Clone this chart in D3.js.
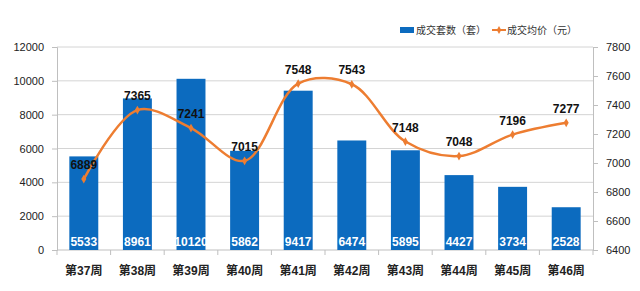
<!DOCTYPE html>
<html>
<head>
<meta charset="utf-8">
<script src="https://cdn.jsdelivr.net/npm/d3@7"></script>
<style>
  body { margin: 0; background: #fff; }
  text { font-family: "Liberation Sans", Arial, "Noto Sans CJK SC", sans-serif; }
</style>
</head>
<body>
<svg width="640" height="291"></svg>
<script>
const weeks = ['第37周', '第38周', '第39周', '第40周', '第41周', '第42周', '第43周', '第44周', '第45周', '第46周'];
const units = [5533, 8961, 10120, 5862, 9417, 6474, 5895, 4427, 3734, 2528];
const prices = [6889, 7365, 7241, 7015, 7548, 7543, 7148, 7048, 7196, 7277];
const leftTicks = [0, 2000, 4000, 6000, 8000, 10000, 12000];
const rightTicks = [6400, 6600, 6800, 7000, 7200, 7400, 7600, 7800];

const svg = d3.select('svg');
const plotL = 57, plotR = 593, plotT = 47, plotB = 250;

const x = d3.scaleBand().domain(weeks).range([plotL, plotR]).paddingInner(0.46).paddingOuter(0.23);
const yL = d3.scaleLinear().domain([0, 12000]).range([plotB, plotT]);
const yR = d3.scaleLinear().domain([6400, 7800]).range([plotB, plotT]);

// gridlines
svg.append('g').selectAll('line').data(leftTicks.slice(1)).join('line')
  .attr('x1', plotL).attr('x2', plotR)
  .attr('y1', d => yL(d)).attr('y2', d => yL(d))
  .attr('stroke', '#d4d4d4').attr('stroke-width', 1);

// left axis
const axL = svg.append('g').attr('transform', `translate(${plotL},0)`)
  .call(d3.axisLeft(yL).tickValues(leftTicks).tickSize(5).tickPadding(8).tickFormat(d3.format('d')));
axL.select('.domain').attr('stroke', '#bfbfbf');
axL.selectAll('line').attr('stroke', '#bfbfbf');
axL.selectAll('text').attr('font-size', 11).attr('fill', '#222');

// right axis
const axR = svg.append('g').attr('transform', `translate(${plotR},0)`)
  .call(d3.axisRight(yR).tickValues(rightTicks).tickSize(5).tickPadding(8).tickFormat(d3.format('d')));
axR.select('.domain').attr('stroke', '#bfbfbf');
axR.selectAll('line').attr('stroke', '#bfbfbf');
axR.selectAll('text').attr('font-size', 11).attr('fill', '#222');

// bottom axis
const axB = svg.append('g').attr('transform', `translate(0,${plotB})`);
axB.append('line').attr('x1', plotL).attr('x2', plotR).attr('stroke', '#bfbfbf');
axB.selectAll('line.tk').data(d3.range(weeks.length + 1)).join('line').attr('class', 'tk')
  .attr('x1', i => plotL + i * (plotR - plotL) / weeks.length)
  .attr('x2', i => plotL + i * (plotR - plotL) / weeks.length)
  .attr('y1', 0).attr('y2', 5).attr('stroke', '#bfbfbf');
axB.selectAll('text').data(weeks).join('text')
  .attr('x', d => x(d) + x.bandwidth() / 2)
  .attr('y', 25)
  .attr('text-anchor', 'middle')
  .attr('font-size', 12).attr('font-weight', 'bold').attr('fill', '#222')
  .text(d => d);

// bars
svg.append('g').selectAll('rect').data(units).join('rect')
  .attr('x', (d, i) => x(weeks[i]))
  .attr('width', x.bandwidth())
  .attr('y', d => yL(d))
  .attr('height', d => plotB - yL(d))
  .attr('fill', '#0c6bbf');

svg.append('g').selectAll('text').data(units).join('text')
  .attr('x', (d, i) => x(weeks[i]) + x.bandwidth() / 2)
  .attr('y', plotB - 4)
  .attr('text-anchor', 'middle')
  .attr('font-size', 12).attr('font-weight', 'bold').attr('fill', '#fff')
  .text(d => d);

// line
const pts = prices.map((d, i) => [x(weeks[i]) + x.bandwidth() / 2, yR(d)]);
svg.append('path')
  .attr('d', d3.line().curve(d3.curveCatmullRom.alpha(0.5))(pts))
  .attr('fill', 'none').attr('stroke', '#ed7d31').attr('stroke-width', 2.5);

svg.append('g').selectAll('path').data(pts).join('path')
  .attr('transform', d => `translate(${d[0]},${d[1]})`)
  .attr('d', d3.symbol(d3.symbolDiamond, 22))
  .attr('fill', '#ed7d31');

svg.append('g').selectAll('text').data(prices).join('text')
  .attr('x', (d, i) => pts[i][0])
  .attr('y', (d, i) => pts[i][1] - 10)
  .attr('text-anchor', 'middle')
  .attr('font-size', 12).attr('font-weight', 'bold').attr('fill', '#111')
  .text(d => d);

// legend
const lg = svg.append('g').attr('transform', 'translate(400,30)');
lg.append('rect').attr('x', 0).attr('y', -3).attr('width', 14).attr('height', 6).attr('fill', '#0c6bbf');
lg.append('text').attr('x', 16).attr('y', 4).attr('font-size', 10).attr('fill', '#333').text('成交套数（套）');
lg.append('line').attr('x1', 92).attr('x2', 106).attr('y1', 0).attr('y2', 0).attr('stroke', '#ed7d31').attr('stroke-width', 2);
lg.append('path').attr('transform', 'translate(99,0)').attr('d', d3.symbol(d3.symbolDiamond, 18)).attr('fill', '#ed7d31');
lg.append('text').attr('x', 107).attr('y', 4).attr('font-size', 10).attr('fill', '#333').text('成交均价（元）');
</script>
</body>
</html>
